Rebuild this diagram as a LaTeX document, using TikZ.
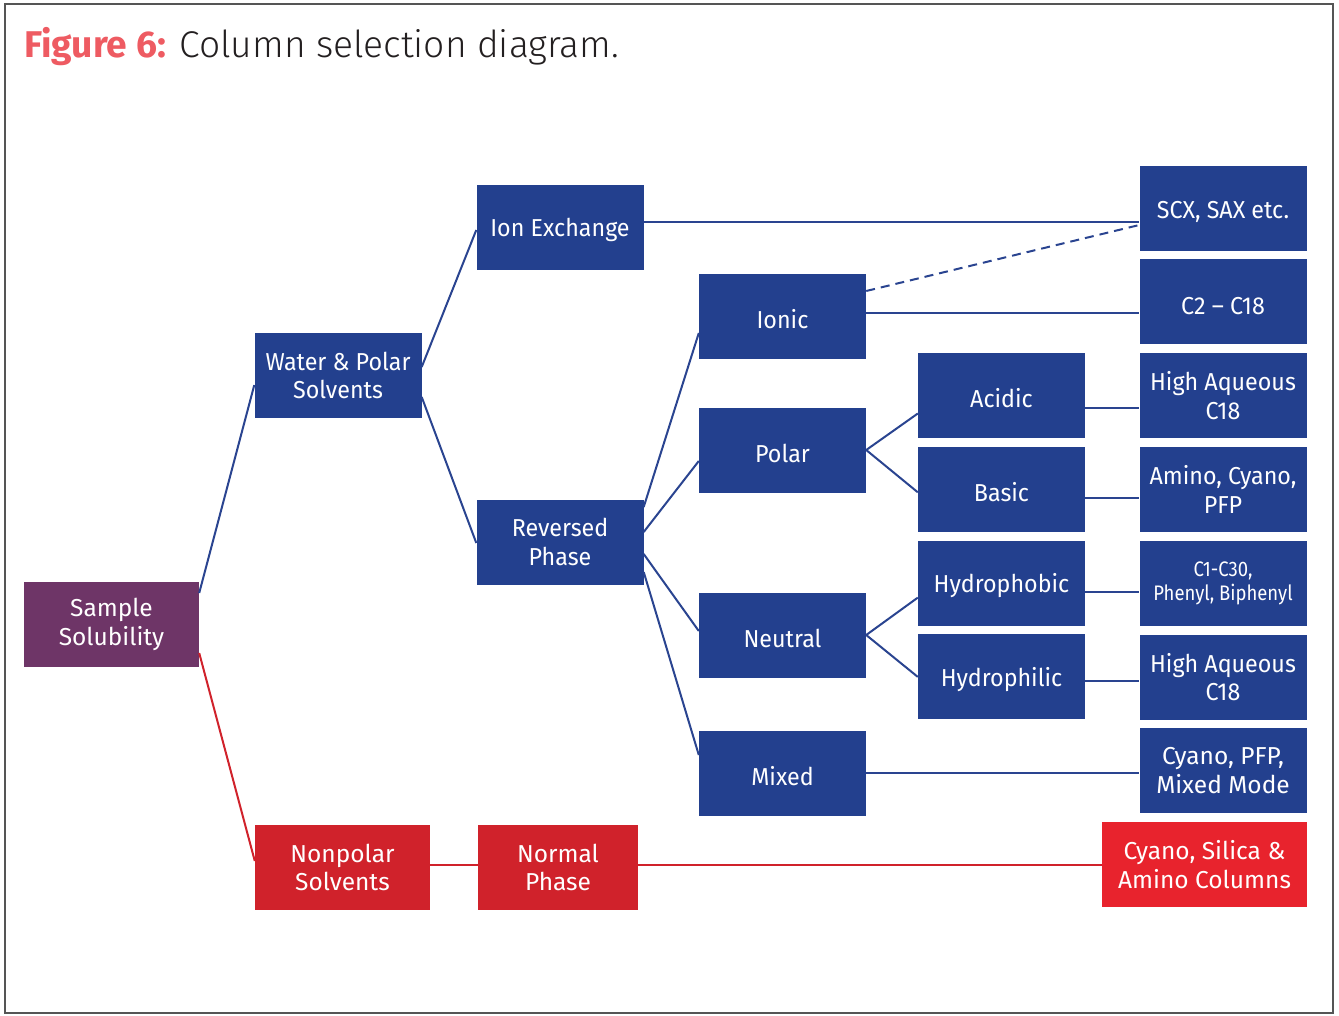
\documentclass[tikz,border=0pt]{standalone}
\usepackage{fontspec}
\setmainfont{Fira Sans}
\newfontfamily\lightfont{Fira Sans Light}
\newfontfamily\boxfont[FakeStretch=0.95]{Fira Sans}
\newfontfamily\smallfont[FakeStretch=0.88]{Fira Sans}
\usetikzlibrary{positioning}
\definecolor{boxblue}{HTML}{23408E}
\definecolor{lineblue}{HTML}{2A4490}
\definecolor{plum}{HTML}{6E3567}
\definecolor{boxred}{HTML}{D0222B}
\definecolor{brightred}{HTML}{E8232D}
\definecolor{titlered}{HTML}{EE5B62}
\definecolor{titlegray}{HTML}{231F20}
\definecolor{framegray}{HTML}{555555}

\begin{document}
\begin{tikzpicture}[
    x=1pt, y=-1pt,
    node distance=93.8pt,
    font=\boxfont\fontsize{24.5}{28.7}\selectfont,
    box/.style={
		rectangle,
		fill=boxblue,
		text=white,
		align=center,
		minimum width=167pt,
		minimum height=85pt,
		inner sep=0pt,
		execute at begin node={\rule{0pt}{25pt}}
	},
	redbox/.style={
		box,
		fill=boxred
	},
	widetext/.style={
		font=\rmfamily\fontsize{24.5}{28.7}\selectfont
	},
	link/.style={
		draw=lineblue,
		line width=2pt
	},
	redlink/.style={
		draw=boxred,
		line width=2pt
	}
  ]
  \useasboundingbox (0,0) rectangle (1339,1015);
  \draw [framegray, line width=1.5pt] (5,4) rectangle (1333,1013);

  \node [anchor=base west, inner sep=0pt, font=\fontsize{37.2}{40}\selectfont] (title) at (24,57)
  {\textcolor{titlered}{\bfseries Figure 6:} {\lightfont\color{titlegray}Column selection diagram.}};

    % We start by placing the blocks
  \node [box, fill=plum, widetext, minimum width=175pt] (sample) at (111.5,624.5) {Sample\\Solubility};
  \node [box] (water) at (338,375.5) {Water \& Polar\\Solvents};
  \node [redbox, widetext, minimum width=175pt] (nonpolar) at (342.5,867.5) {Nonpolar\\Solvents};

  \node [box] (ionex) at (560,227) {Ion Exchange};
  \node [box] (reversed) at (560,542) {Reversed\\Phase};
  \node [redbox, widetext, minimum width=160pt] (normal) at (558,867.5) {Normal\\Phase};

  \node [box] (ionic) at (782.5,316) {Ionic};
  \node [box] (polar) at (782.5,450) {Polar};
  \node [box] (neutral) at (782.5,635) {Neutral};
  \node [box] (mixed) at (782.5,773) {Mixed};

  \node [box] (acidic) at (1001.5,395.5) {Acidic};
  \node [box, below of=acidic] (basic) {Basic};
  \node [box, below of=basic] (hydrophobic) {Hydrophobic};
  \node [box, below of=hydrophobic] (hydrophilic) {Hydrophilic};

  \node [box] (scx) at (1223,208) {SCX, SAX etc.};
  \node [box, below of=scx] (ctwo) {C2 – C18};
  \node [box, below of=ctwo] (highaqa) {High Aqueous\\C18};
  \node [box, below of=highaqa] (amino) {Amino, Cyano,\\PFP};
  \node [box, below of=amino, font=\smallfont\fontsize{21}{24}\selectfont] (cone) {C1-C30,\\Phenyl, Biphenyl};
  \node [box, below of=cone] (highaqb) {High Aqueous\\C18};
  \node [box, below of=highaqb, widetext] (cyanopfp) {Cyano, PFP,\\Mixed Mode};
  \node [box, fill=brightred, widetext, minimum width=205pt] (cyanosilica) at (1204.5,864.5) {Cyano, Silica \&\\Amino Columns};

    % then the links
  \draw [link] ([yshift=31.5pt]sample.east) -- ([yshift=-9.5pt]water.west);
  \draw [redlink] ([yshift=-28.5pt]sample.east) -- ([yshift=6.5pt]nonpolar.west);
  \draw [link] ([yshift=8.5pt]water.east) -- ([yshift=-3pt]ionex.west);
  \draw [link] ([yshift=-21.5pt]water.east) -- ([yshift=-1pt]reversed.west);

  \draw [link] ([yshift=35pt]reversed.east) -- ([yshift=-17pt]ionic.west);
  \draw [link] ([yshift=10pt]reversed.east) -- ([yshift=-11pt]polar.west);
  \draw [link] ([yshift=-12pt]reversed.east) -- ([yshift=4pt]neutral.west);
  \draw [link] ([yshift=-30pt]reversed.east) -- ([yshift=18pt]mixed.west);

  \draw [link] (polar.east) -- ([yshift=-18pt]acidic.west);
  \draw [link] (polar.east) -- ([yshift=-3pt]basic.west);
  \draw [link] (neutral.east) -- ([yshift=-14.5pt]hydrophobic.west);
  \draw [link] (neutral.east) -- (hydrophilic.west);

  \draw [link] ([yshift=5pt]ionex.east) -- ([yshift=5pt]ionex.east -| scx.west);
  \draw [link, dash pattern=on 9pt off 6pt] ([yshift=25pt]ionic.east) -- ([yshift=-17pt]scx.west);
  \draw [link] ([yshift=3pt]ionic.east) -- ([yshift=3pt]ionic.east -| ctwo.west);
  \draw [link] ([yshift=-12.5pt]acidic.east) -- ([yshift=-12.5pt]acidic.east -| highaqa.west);
  \draw [link] ([yshift=-8.5pt]basic.east) -- ([yshift=-8.5pt]basic.east -| amino.west);
  \draw [link] ([yshift=-8.5pt]hydrophobic.east) -- ([yshift=-8.5pt]hydrophobic.east -| cone.west);
  \draw [link] ([yshift=-4pt]hydrophilic.east) -- ([yshift=-4pt]hydrophilic.east -| highaqb.west);
  \draw [link] (mixed.east) -- (mixed.east -| cyanopfp.west);

  \draw [redlink] ([yshift=2.5pt]nonpolar.east) -- ([yshift=2.5pt]nonpolar.east -| normal.west);
  \draw [redlink] ([yshift=2.5pt]normal.east) -- ([yshift=2.5pt]normal.east -| cyanosilica.west);

\end{tikzpicture}
\end{document}
